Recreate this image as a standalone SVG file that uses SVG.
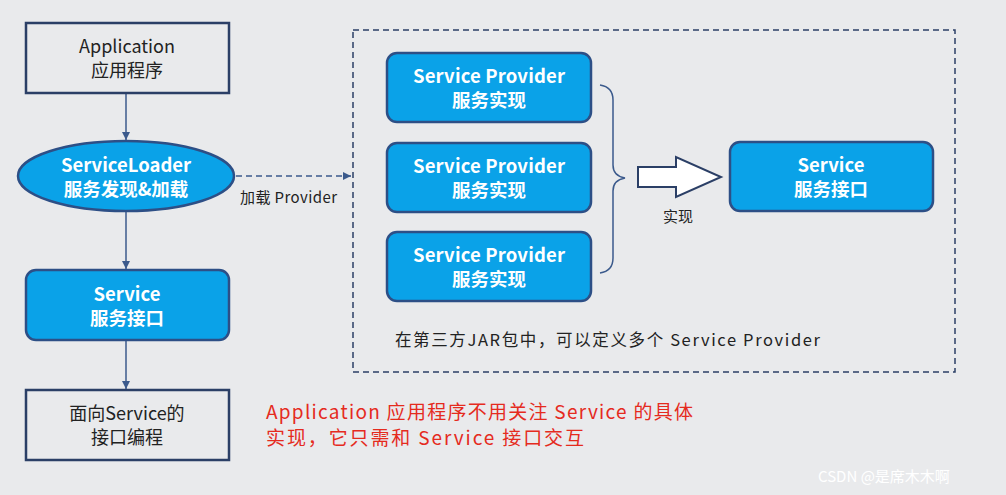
<svg xmlns="http://www.w3.org/2000/svg" width="1006" height="495" viewBox="0 0 1006 495">
<defs>
<marker id="ah" markerWidth="10" markerHeight="10" refX="9" refY="5" orient="auto" markerUnits="userSpaceOnUse"><path d="M1,1 L9,5 L1,9 Z" fill="#3b5a8c"/></marker>
<style>
.w{fill:none;stroke:#2b3f66;stroke-width:2.5}
.b{fill:#0aa2e8;stroke:#2d4f86;stroke-width:2.5}
.t{font-family:"Noto Sans CJK SC","Noto Sans",sans-serif;font-size:18px;text-anchor:middle;fill:#222}
.bt{font-family:"Noto Sans CJK SC","Noto Sans",sans-serif;font-size:18.5px;font-weight:bold;text-anchor:middle;fill:#fff}
.s{font-family:"Noto Sans CJK SC","Noto Sans",sans-serif;font-size:15px;fill:#222}
.c{stroke:#3b5a8c;stroke-width:1.5;fill:none}
</style>
</defs>
<rect width="1006" height="495" fill="#e9eaec"/>
<g id="connectors">
<line class="c" x1="126" y1="93" x2="126" y2="140" marker-end="url(#ah)"/>
<line class="c" x1="126" y1="211" x2="126" y2="269" marker-end="url(#ah)"/>
<line class="c" x1="126" y1="340" x2="126" y2="389" marker-end="url(#ah)"/>
<line class="c" x1="236" y1="176" x2="351" y2="176" stroke-dasharray="6,4" marker-end="url(#ah)"/>
<text class="s" x="240" y="203" textLength="97">加载 Provider</text>
<path class="c" d="M600,85 Q613,87 613,100 L613,165 Q613,176 625,178 Q613,180 613,191 L613,258 Q613,271 600,273"/>
<path d="M638,167 L676,167 L676,157 L721,177 L676,197 L676,187 L638,187 Z" fill="#fff" stroke="#2b3f66" stroke-width="2"/>
<text class="s" x="663" y="222">实现</text>
</g>
<rect x="353" y="30" width="602" height="342" fill="none" stroke="#2b3f66" stroke-width="1.5" stroke-dasharray="6,4"/>
<g id="app"><rect class="w" x="26" y="23" width="203" height="70" fill="#eef0f2"/><text class="t" x="127" y="53">Application</text><text class="t" x="127" y="77">应用程序</text></g>
<g id="loader"><ellipse class="b" cx="126" cy="176" rx="108" ry="35"/><text class="bt" x="126" y="172">ServiceLoader</text><text class="bt" x="126" y="196">服务发现&amp;加载</text></g>
<g id="service-left"><rect class="b" x="26" y="270" width="203" height="70" rx="10"/><text class="bt" x="127" y="301">Service</text><text class="bt" x="127" y="325">服务接口</text></g>
<g id="iface"><rect class="w" x="26" y="390" width="203" height="70" fill="#eef0f2"/><text class="t" x="127" y="420">面向Service的</text><text class="t" x="127" y="444">接口编程</text></g>
<g id="p1"><rect class="b" x="387" y="53" width="204" height="69" rx="10"/><text class="bt" x="489" y="83" textLength="152">Service Provider</text><text class="bt" x="489" y="107">服务实现</text></g>
<g id="p2"><rect class="b" x="387" y="143" width="204" height="69" rx="10"/><text class="bt" x="489" y="173" textLength="152">Service Provider</text><text class="bt" x="489" y="197">服务实现</text></g>
<g id="p3"><rect class="b" x="387" y="232" width="204" height="69" rx="10"/><text class="bt" x="489" y="262" textLength="152">Service Provider</text><text class="bt" x="489" y="286">服务实现</text></g>
<g id="service-right"><rect class="b" x="730" y="142" width="203" height="69" rx="10"/><text class="bt" x="831" y="172">Service</text><text class="bt" x="831" y="196">服务接口</text></g>
<text class="s" x="395" y="346" textLength="425" style="font-size:16.5px">在第三方JAR包中，可以定义多个 Service Provider</text>
<text x="266" y="419" textLength="427" style="font-family:'Noto Sans CJK SC',sans-serif;font-size:19px;fill:#e52b1e">Application 应用程序不用关注 Service 的具体</text>
<text x="266" y="445" textLength="318" style="font-family:'Noto Sans CJK SC',sans-serif;font-size:19px;fill:#e52b1e">实现，它只需和 Service 接口交互</text>
<text x="818" y="482" style="font-family:'Noto Sans CJK SC',sans-serif;font-size:15px;fill:#fff">CSDN @是席木木啊</text>
</svg>
